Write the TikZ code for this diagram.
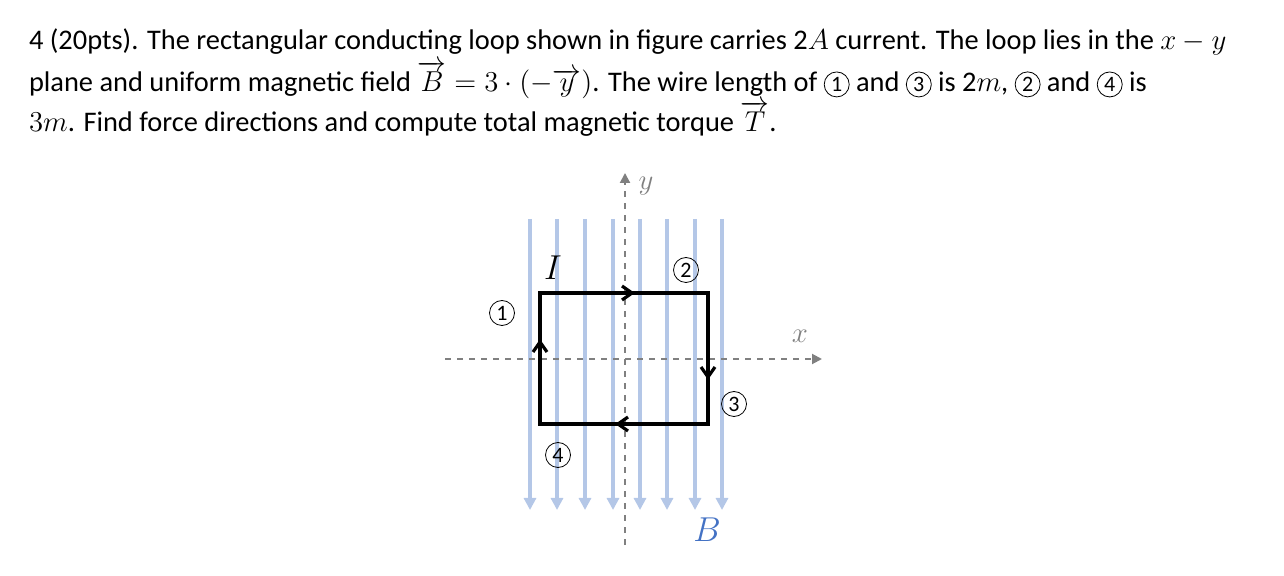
\documentclass[tikz,border=0pt]{standalone}
\usepackage{amsmath}
\usepackage{fontspec}
\setmainfont{Carlito}
\usetikzlibrary{arrows.meta}
\definecolor{fieldc}{HTML}{B4C7E7}
\definecolor{bc}{HTML}{4472C4}
\newcommand{\cnum}[1]{\tikz[baseline=(cc.base)]\node[circle,draw,thin,inner sep=0pt,minimum size=12.5pt](cc){\fontsize{11}{11}\selectfont #1};}
\begin{document}
\begin{tikzpicture}[x=0.5pt,y=-0.5pt,
  field/.style={draw=fieldc,line width=1.6pt,-{Triangle[length=6pt,width=6pt]}},
  axis/.style={draw=gray,dashed,line width=1pt,-{Triangle[length=5pt,width=5pt]}},
  wire/.style={line width=1.6pt},
  txt/.style={anchor=west,font=\fontsize{14.2}{15}\selectfont}]
\useasboundingbox (0,0) rectangle (1284,576);
\node[txt] (t1) at (22,42) {4 (20pts). The rectangular conducting loop shown in figure carries 2$A$ current. The loop lies in the $x-y$};
\node[txt] (t2) at (22,80) {plane and uniform magnetic field $\overrightarrow{B}=3\cdot(-\overrightarrow{y})$. The wire length of \cnum{1} and \cnum{3} is 2$m$, \cnum{2} and \cnum{4} is};
\node[txt] (t3) at (22,119) {$3m$. Find force directions and compute total magnetic torque $\overrightarrow{T}$.};
\foreach \x in {530,557,585,613,640,667,695,722}{
  \coordinate (ft\x) at (\x,219); \coordinate (fb\x) at (\x,510);
  \draw[field] (ft\x) -- (fb\x);}
\coordinate (ya) at (625,545); \coordinate (yb) at (625,173);
\coordinate (xa) at (445,359); \coordinate (xb) at (822,359);
\draw[axis] (ya) -- (yb);
\draw[axis] (xa) -- (xb);
\node[text=gray,font=\fontsize{15}{15}\selectfont] (ylab) at (646,186) {$y$};
\node[text=gray,font=\fontsize{15}{15}\selectfont] (xlab) at (800,336) {$x$};
\coordinate (A) at (540,293); \coordinate (Bc) at (708,293);
\coordinate (C) at (708,424); \coordinate (D) at (540,424);
\draw[wire] (A) -- (Bc) -- (C) -- (D) -- cycle;
\draw[wire] (622,286) -- (632,293) -- (622,300);
\draw[wire] (701,367) -- (708,377) -- (715,367);
\draw[wire] (628,417) -- (618,424) -- (628,431);
\draw[wire] (533,352) -- (540,342) -- (547,352);
\node[font=\fontsize{16}{16}\selectfont] (Il) at (553,268) {$I$};
\node (n2) at (686,270) {\cnum{2}};
\node (n1) at (502,313) {\cnum{1}};
\node (n3) at (734,404) {\cnum{3}};
\node (n4) at (558,455) {\cnum{4}};
\node[text=bc,font=\fontsize{17}{17}\selectfont] (Bl) at (707,530) {$B$};
\end{tikzpicture}
\end{document}
